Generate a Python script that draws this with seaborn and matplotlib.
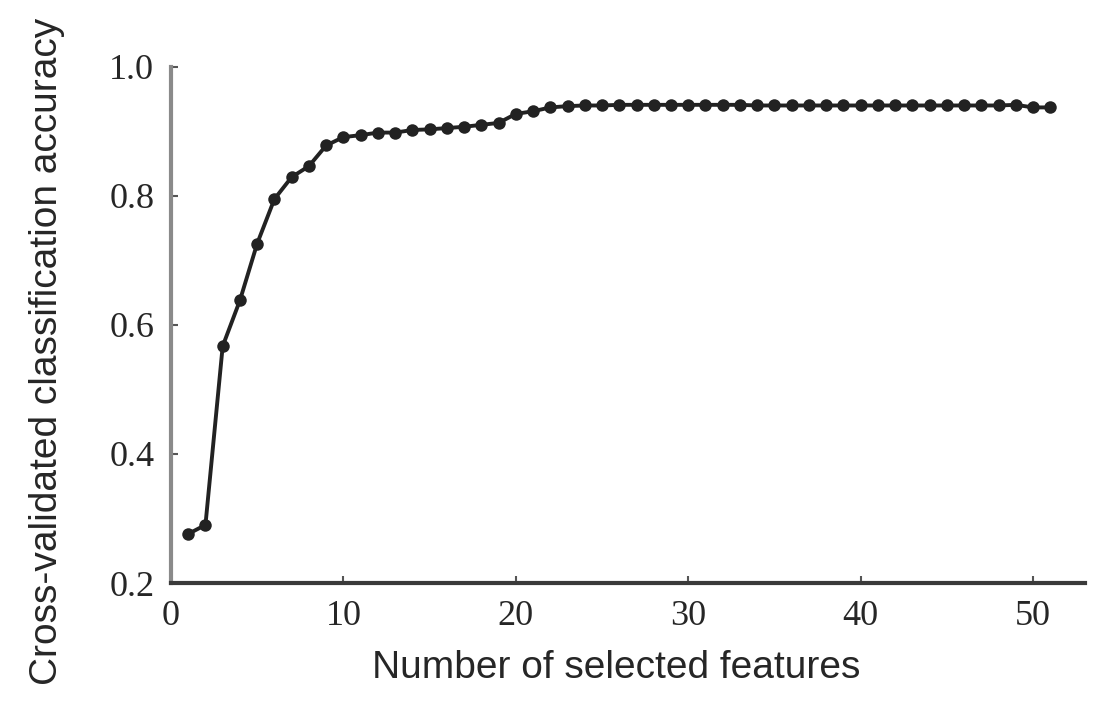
import numpy as np
import pandas as pd
import matplotlib
matplotlib.use("Agg")
import matplotlib.pyplot as plt
import seaborn as sns

# number of selected features vs cross-validated accuracy
n_features = list(range(1, 52))
accuracy = [0.276, 0.290, 0.567, 0.638, 0.726, 0.795, 0.829, 0.846, 0.878, 0.891,
            0.894, 0.898, 0.898, 0.902, 0.903, 0.905, 0.907, 0.910, 0.913, 0.927,
            0.931, 0.937, 0.939, 0.940, 0.940, 0.941, 0.941, 0.941, 0.941, 0.941,
            0.941, 0.941, 0.941, 0.940, 0.940, 0.940, 0.940, 0.940, 0.940, 0.940,
            0.940, 0.940, 0.940, 0.940, 0.940, 0.940, 0.940, 0.940, 0.941, 0.937,
            0.937]
x_ticks = [0, 10, 20, 30, 40, 50]
y_ticks = [0.2, 0.4, 0.6, 0.8, 1.0]

df = pd.DataFrame({'features': n_features, 'acc': accuracy})

sns.set_style("ticks")
plt.rcParams['font.family'] = ['Liberation Sans', 'DejaVu Sans']

fig = plt.figure(figsize=(10.98, 7.21), dpi=100)
ax = fig.add_axes([0.1557, 0.1914, 0.8323, 0.716])
sns.lineplot(data=df, x='features', y='acc', ax=ax, color='#222222',
             linewidth=2.8, marker='o', markersize=9, markeredgewidth=0)

ax.set_xlim(0, 53)
ax.set_ylim(0.2, 1.0)
ax.set_xticks(x_ticks)
ax.set_yticks(y_ticks)
ax.set_xticklabels([str(t) for t in x_ticks], family='Liberation Serif', fontsize=26)
ax.set_yticklabels([f"{t:.1f}" for t in y_ticks], family='Liberation Serif', fontsize=26)
ax.tick_params(direction='in', length=5, width=1.5, color='#555555', pad=12)

for side in ['top', 'right']:
    ax.spines[side].set_visible(False)
ax.spines['left'].set_color('#8a8a8a')
ax.spines['left'].set_linewidth(3)
ax.spines['bottom'].set_color('#3a3a3a')
ax.spines['bottom'].set_linewidth(3)

ax.set_xlabel('Number of selected features', fontsize=28)
ax.xaxis.set_label_coords(0.487, -0.13)
ax.set_ylabel('Cross-validated classification accuracy', fontsize=28)
ax.yaxis.set_label_coords(-0.116, 0.448)

fig.savefig('out.png', dpi=100)
